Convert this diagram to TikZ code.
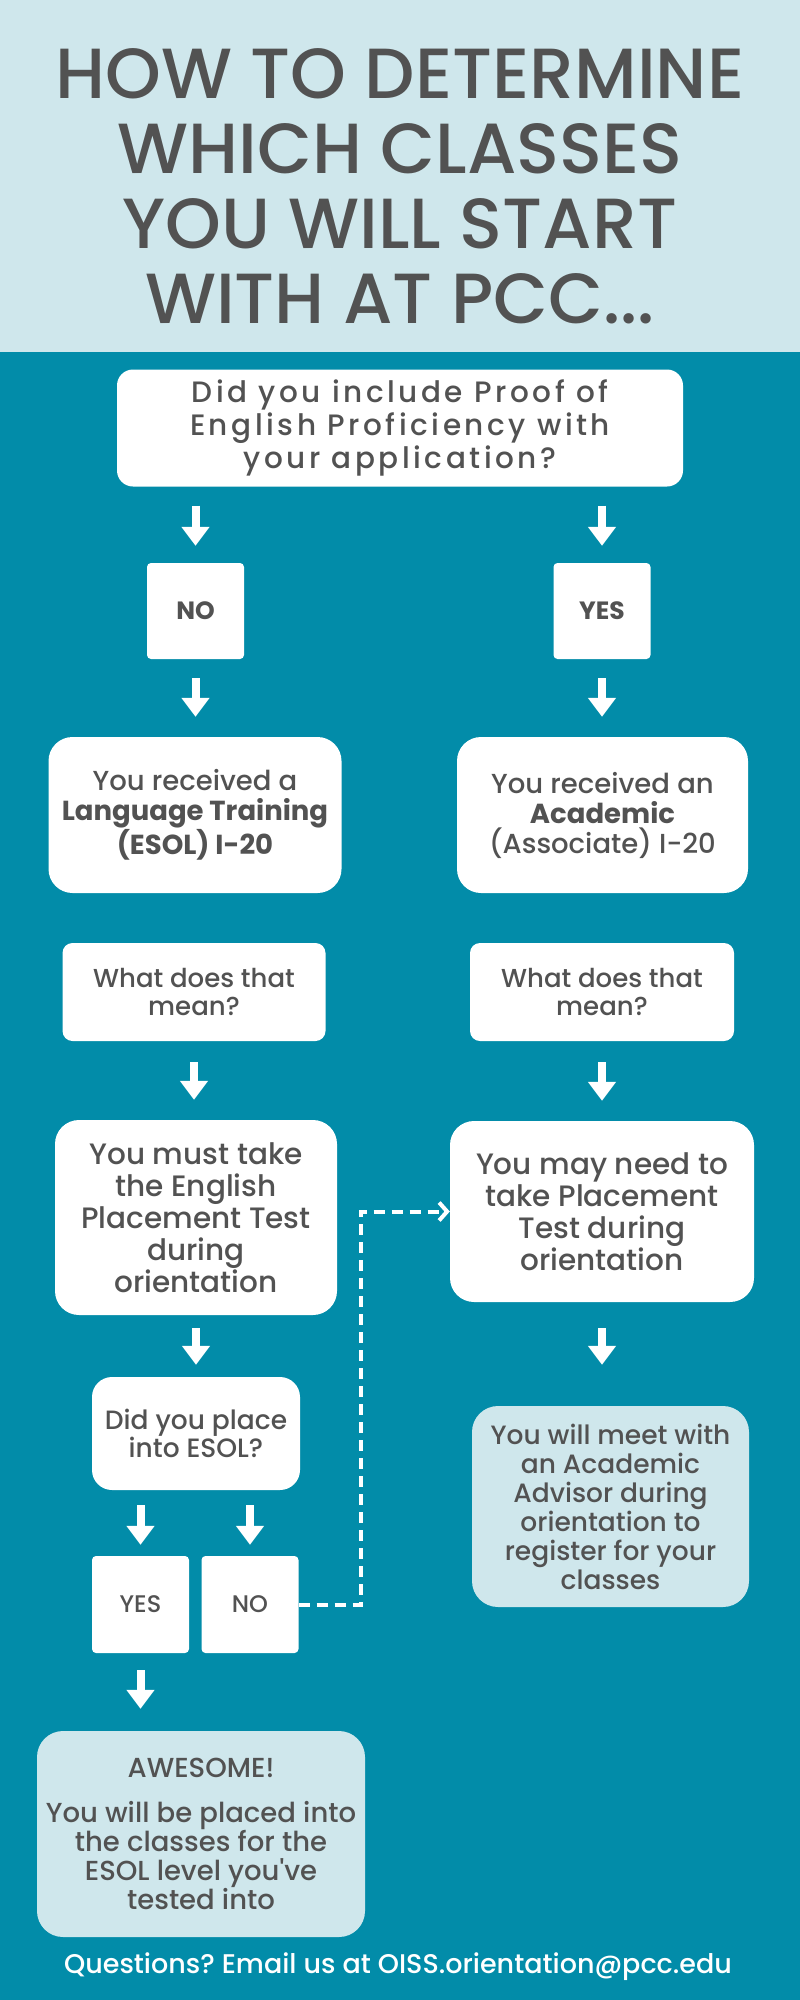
\documentclass[tikz,border=0pt]{standalone}
\usepackage{fontspec}
\setmainfont{Poppins Medium}[BoldFont={Poppins Bold}]
\usepackage{tikz}
\usetikzlibrary{arrows.meta,positioning,calc}
\definecolor{pccteal}{RGB}{2,140,169}
\definecolor{pcclight}{RGB}{207,231,236}
\definecolor{pccgray}{RGB}{82,82,82}
\frenchspacing

\begin{document}
\begin{tikzpicture}[x=1pt, y=-1pt,
  every node/.style={text=pccgray, align=center, inner sep=0pt},
  bigbox/.style={fill=white, rounded corners=24pt, font=\fontsize{27.5}{30}\selectfont},
  lightbox/.style={fill=pcclight, rounded corners=26pt, font=\fontsize{26.5}{29}\selectfont},
  meanbox/.style={fill=white, rounded corners=10pt, font=\fontsize{26}{28}\selectfont},
  answerbox/.style={fill=white, rounded corners=4pt, minimum width=97pt, minimum height=96pt},
  downarrow/.style={draw=white, line width=8pt, -{Triangle[width=27pt,length=19pt]}},
  jumparrow/.style={draw=white, line width=4pt, dash pattern=on 11pt off 7pt,
                    -{Straight Barb[length=8pt,width=18pt,line width=4pt]}},
]
\useasboundingbox (0,0) rectangle (800,2000);

%% Backgrounds: header band and teal body
\fill[pcclight] (0,0) rectangle (800,352);
\fill[pccteal] (0,352) rectangle (800,2000);

%% Title
\node[font=\fontsize{71}{75}\selectfont] (title) at (400,186)
  {HOW TO DETERMINE\\WHICH CLASSES\\YOU WILL START\\WITH AT PCC...};

%% Opening question
\node[fill=white, rounded corners=16pt, minimum width=566pt, minimum height=117pt,
      font=\fontsize{29.5}{33}\selectfont\addfontfeatures{LetterSpace=12}] (proof) at (400,428)
  {Did you include Proof of\\English Proficiency with\\your application?};

%% First answers
\node[answerbox, font=\fontsize{25}{30}\selectfont\bfseries] (no1) at (195.5,611) {NO};
\node[answerbox, font=\fontsize{25}{30}\selectfont\bfseries] (yes1) at (602,611) {YES};

%% I-20 types (left: ESOL, right: academic)
\node[bigbox, minimum width=293pt, minimum height=156pt] (esoli20) at (195,815)
  {You received a\\\textbf{Language Training}\\\textbf{(ESOL) I-20}};
\node[bigbox, minimum width=291pt, minimum height=156pt] (acadi20) at (602.5,815)
  {You received an\\\textbf{Academic}\\(Associate) I-20};

\node[meanbox, minimum width=263pt, minimum height=98pt] (meanl) at (194,992)
  {What does that\\mean?};
\node[meanbox, minimum width=264pt, minimum height=98pt] (meanr) at (602,992)
  {What does that\\mean?};

%% Placement test boxes
\node[bigbox, minimum width=282pt, minimum height=195pt,
      font=\fontsize{29.5}{32}\selectfont] (musttest) at (196,1217.5)
  {You must take\\the English\\Placement Test\\during\\orientation};
\node[bigbox, minimum width=304pt, minimum height=181pt,
      font=\fontsize{29.5}{32}\selectfont] (maytest) at (602,1211.5)
  {You may need to\\take Placement\\Test during\\orientation};

\node[fill=white, rounded corners=20pt, minimum width=208pt, minimum height=113pt,
      font=\fontsize{26.5}{28}\selectfont] (placeesol) at (196,1433.5)
  {Did you place\\into ESOL?};

\node[answerbox, minimum height=97pt, font=\fontsize{24}{28}\selectfont] (yes2) at (140.5,1604.5) {YES};
\node[answerbox, minimum height=97pt, font=\fontsize{24}{28}\selectfont] (no2) at (250,1604.5) {NO};

%% Outcomes
\node[lightbox, minimum width=277pt, minimum height=201pt] (advisor) at (610.5,1506.5)
  {You will meet with\\an Academic\\Advisor during\\orientation to\\register for your\\classes};
\node[lightbox, minimum width=328pt, minimum height=206pt, font=\fontsize{27.5}{29}\selectfont] (awesome) at (201,1834)
  {AWESOME!\\[16pt]You will be placed into\\the classes for the\\ESOL level you\textquotesingle ve\\tested into};

%% Footer
\node[text=white, font=\fontsize{27}{30}\selectfont] (footer) at (398,1967)
  {Questions? Email us at OISS.orientation@pcc.edu};

%% Down arrows
\draw[downarrow, shorten <=19pt, shorten >=17pt] (proof.south -| no1) -- (no1.north);
\draw[downarrow, shorten <=19pt, shorten >=17pt] (proof.south -| yes1) -- (yes1.north);
\foreach \a/\b in {no1/esoli20, yes1/acadi20}
  \draw[downarrow, shorten <=19pt, shorten >=20pt] (\a.south) -- (\a.south |- \b.north);
\foreach \a/\b in {meanl/musttest, meanr/maytest}
  \draw[downarrow, shorten <=21pt, shorten >=20pt] (\a.south) -- (\a.south |- \b.north);
\draw[downarrow, shorten <=13pt, shorten >=12pt] (musttest.south) -- (placeesol.north);
\draw[downarrow, shorten <=26pt, shorten >=41pt] (maytest.south) -- (maytest.south |- advisor.north);
\draw[downarrow, shorten <=15pt, shorten >=11pt] (placeesol.south -| yes2) -- (yes2.north);
\draw[downarrow, shorten <=15pt, shorten >=11pt] (placeesol.south -| no2) -- (no2.north);
\draw[downarrow, shorten <=17pt, shorten >=22pt] (yes2.south) -- (yes2.south |- awesome.north);

%% Dashed jump from "NO" to the placement test
\draw[jumparrow] (no2.east) -- ([xshift=62pt]no2.east) |- (maytest.west);

\end{tikzpicture}
\end{document}
